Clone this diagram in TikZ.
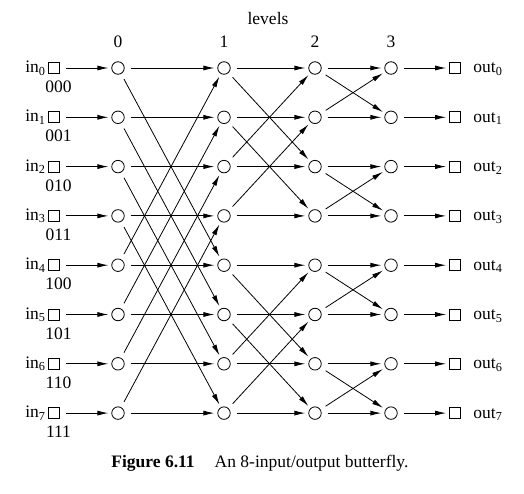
\documentclass[tikz,border=0pt]{standalone}
\usepackage{fontspec}
\setmainfont{Liberation Serif}
\usetikzlibrary{arrows.meta,positioning}

\begin{document}
\begin{tikzpicture}[x=1pt,y=-1pt,font=\fontsize{17.5}{20}\selectfont,>={Latex[length=11pt,width=5pt]},line width=0.8pt]
\tikzstyle{sw}=[draw,circle,inner sep=0pt,minimum size=12.5pt]
\tikzstyle{io}=[draw,rectangle,inner sep=0pt,minimum size=11pt]
\tikzstyle{ln}=[->,shorten <=6pt,shorten >=3pt]
\tikzstyle{lbl}=[inner sep=0pt]
\useasboundingbox (0,0) rectangle (524,494);
\node[lbl,anchor=base] (lv) at (268,25) {levels};
% switches, one column per level
\foreach \l/\x in {0/118,1/224,2/315,3/391}{
  \node[lbl,anchor=base] (h\l) at (\x,48) {\l};
  \foreach \r in {0,...,7}
    \node[sw] (s\l\r) at (\x,68+49.3*\r) {};
}
% inputs and outputs
\foreach \r/\b in {0/000,1/001,2/010,3/011,4/100,5/101,6/110,7/111}{
  \node[io] (i\r) at (54,68+49.3*\r) {};
  \node[lbl,anchor=base east] (il\r) at (46,72.5+49.3*\r) {in\textsubscript{\r}};
  \node[lbl,anchor=base] (ib\r) at (58.5,92.5+49.3*\r) {\b};
  \node[io] (o\r) at (455,68+49.3*\r) {};
  \node[lbl,anchor=base west] (ol\r) at (473,73+49.3*\r) {out\textsubscript{\r}};
  \draw[ln] (i\r) -- (s0\r);
  \draw[ln] (s3\r) -- (o\r);
}
% butterfly connections between levels
\foreach \l/\n/\d in {0/1/4,1/2/2,2/3/1}{
  \foreach \r in {0,...,7}{
    \pgfmathtruncatemacro\p{mod(floor(\r/\d),2)==0 ? \r+\d : \r-\d}
    \draw[ln] (s\l\r) -- (s\n\r);
    \draw[ln] (s\l\r) -- (s\n\p);
  }
}
\node[lbl,anchor=base west] (cap) at (111,467) {\textbf{Figure 6.11}\hspace{20pt}An 8-input/output butterfly.};
\end{tikzpicture}
\end{document}
